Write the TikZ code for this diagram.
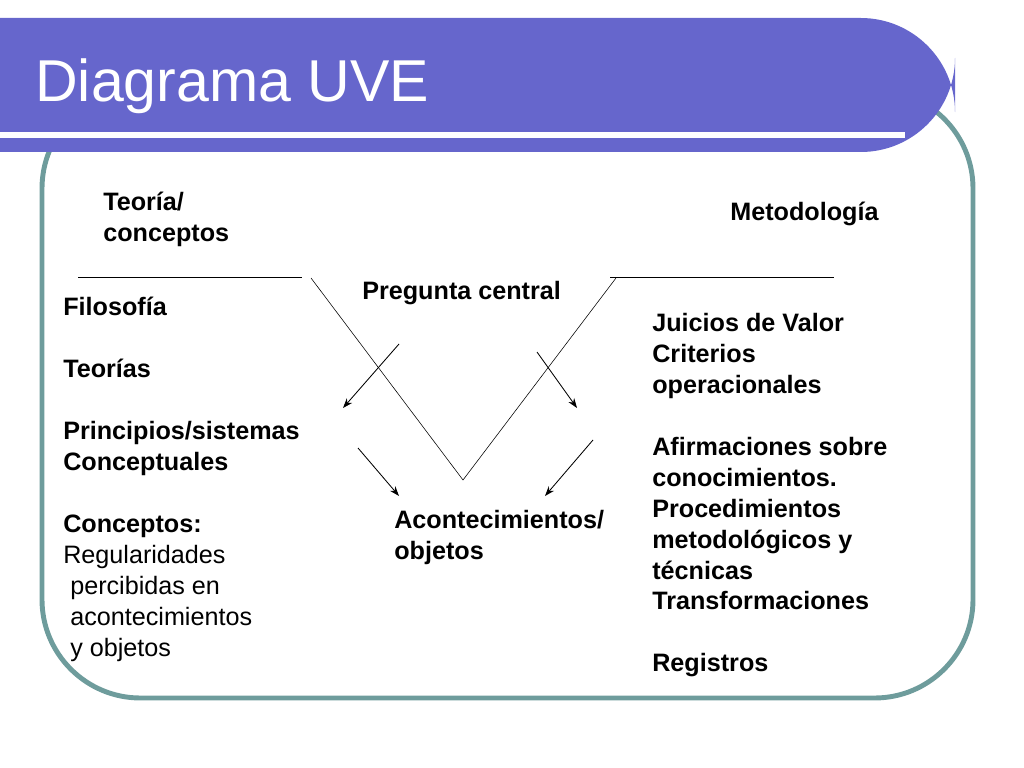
\documentclass[tikz,border=0pt]{standalone}
\usepackage{fontspec}
\setmainfont{Liberation Sans}
\usetikzlibrary{arrows, arrows.meta}
\definecolor{banda}{HTML}{6666CC}
\definecolor{marco}{HTML}{6E9C9C}
\tikzstyle{txt} = [anchor=north west, inner sep=0pt, align=left, font=\fontsize{17.9}{22}\selectfont\bfseries]
\tikzstyle{arrow} = [semithick,-{Stealth[length=7pt,width=5pt]}]

\begin{document}
\begin{tikzpicture}[x=0.025cm,y=-0.025cm]
\useasboundingbox (0,0) rectangle (1024,768);
% marco y banda
\draw [marco, line width=3.5pt, rounded corners=70] (42,90) rectangle (973,698);
\fill [banda] (0,18) [rounded corners=67] -- (955,18) -- (955,152) [sharp corners] -- (0,152) -- cycle;
\draw [white, line width=4pt] (0,135) -- (905,135);
\node (title) [anchor=base west, inner sep=0pt, text=white, font=\fontsize{42}{50}\selectfont] at (35,102) {Diagrama UVE};

% la V
\coordinate (vl) at (311,278);
\coordinate (vb) at (463,480);
\coordinate (vr) at (616,278);
\draw (vl) -- (vb) -- (vr);
\draw (78,277) -- (302,277);
\draw (610,277) -- (834,277);

% flechas
\coordinate (a1) at (399,344); \coordinate (b1) at (343,408);
\coordinate (a2) at (537,352); \coordinate (b2) at (577,408);
\coordinate (a3) at (358,448); \coordinate (b3) at (399,496);
\coordinate (a4) at (593,440); \coordinate (b4) at (545,496);
\draw [arrow] (a1) -- (b1);
\draw [arrow] (a2) -- (b2);
\draw [arrow] (a3) -- (b3);
\draw [arrow] (a4) -- (b4);

% textos
\node (teoria) [txt] at (103,192) {Teoría/\\conceptos};
\node (metodo) [txt] at (730,202) {Metodología};
\node (pregunta) [txt] at (362,281) {Pregunta central};
\node (aconte) [txt] at (394,510) {Acontecimientos/\\objetos};
\node (izq) [txt] at (63,297) {Filosofía\\[22pt]Teorías\\[22pt]Principios/sistemas\\Conceptuales\\[22pt]Conceptos:\\
\mdseries Regularidades\\\mdseries\ percibidas en\\\mdseries\ acontecimientos\\\mdseries\ y objetos};
\node (der) [txt] at (652,313) {Juicios de Valor\\Criterios\\operacionales\\[22pt]Afirmaciones sobre\\conocimientos.\\Procedimientos\\metodológicos y\\técnicas\\Transformaciones\\[22pt]Registros};
\end{tikzpicture}
\end{document}
